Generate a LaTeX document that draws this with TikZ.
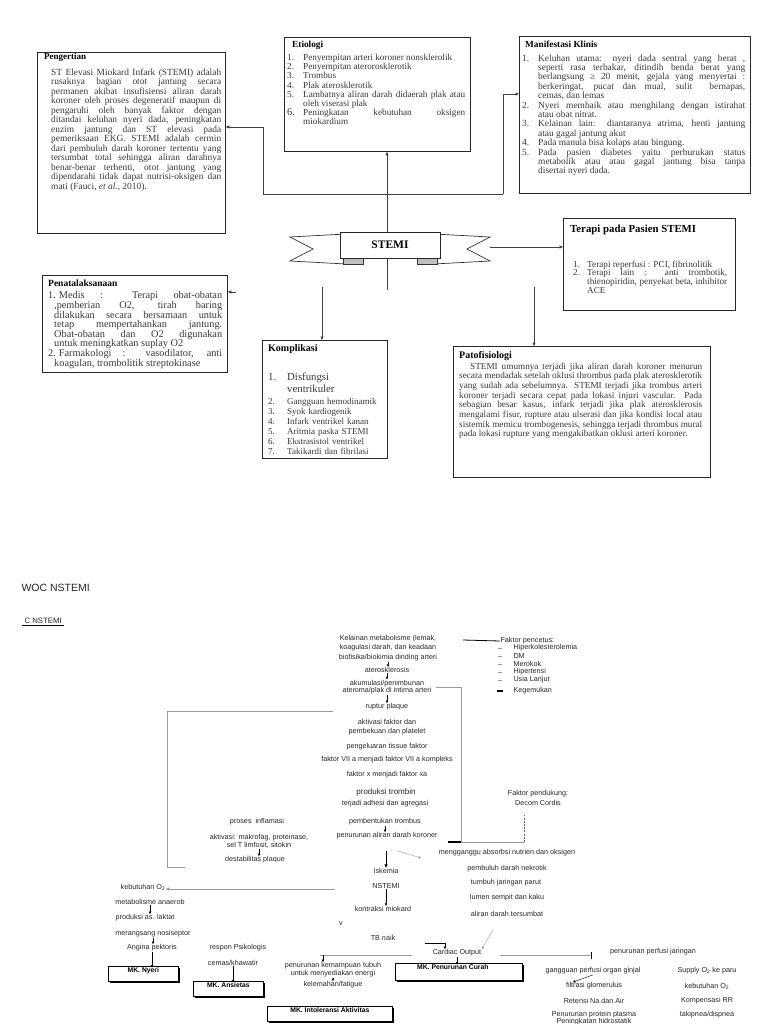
\documentclass[tikz,border=0pt]{standalone}
\usepackage{fontspec}
\setmainfont{Liberation Serif}
\setsansfont{Liberation Sans}
\usetikzlibrary{arrows.meta,shadows}
\newcommand{\myitem}[2]{\par\noindent\hangindent=#1\hangafter=1\makebox[#1][l]{#2}\ignorespaces}
\newcommand{\fsz}[2]{\fontsize{#1}{#2}\selectfont\lineskiplimit=-20pt\lineskip=0pt}
\begin{document}
\begin{tikzpicture}[x=1pt,y=-1pt,
 bx/.style={draw=black!85, line width=0.8pt, inner sep=0pt, anchor=north west},
 tt/.style={inner sep=0pt, anchor=base west, font=\bfseries\fontsize{9.3}{10}\selectfont},
 body/.style={inner sep=0pt, anchor=north west, align=justify, text=black!78},
 s/.style={inner sep=0.3pt, align=center, text=black!85, font=\sffamily\fontsize{7.2}{8}\selectfont},
 ln/.style={draw=black!40, line width=0.5pt},
 tl/.style={draw=black!75, line width=0.6pt},
 ar/.style={-{Triangle[length=3.5pt,width=3pt]}},
 tar/.style={-{Triangle[length=2.5pt,width=2.4pt]}, line width=0.4pt},
 mk/.style={draw=black, line width=0.7pt, inner sep=0pt, anchor=north west, fill=white,
   drop shadow={shadow xshift=1.4pt, shadow yshift=-1.4pt, fill=black, opacity=1}},
 mkt/.style={inner sep=0pt, font=\sffamily\bfseries\fontsize{6.8}{8}\selectfont},
]
\useasboundingbox (0,0) rectangle (768,1024);

% ---------------- top boxes ----------------
\node[bx, minimum width=188, minimum height=181] (peng) at (37,52) {};
\node[tt, font=\bfseries\fontsize{9}{10}\selectfont] (pengt) at (44,60) {Pengertian};
\node[body, text width=170pt, font=\fsz{9.4}{9.5}] (pengb) at (51,68.5) {%
ST Elevasi Miokard Infark (STEMI) adalah\linebreak
rusaknya bagian otot jantung secara\linebreak
permanen akibat insufisiensi aliran darah\linebreak
koroner oleh proses degeneratif maupun di\linebreak
pengaruhi oleh banyak faktor dengan\linebreak
ditandai keluhan nyeri dada, peningkatan\linebreak
enzim jantung dan ST elevasi pada\linebreak
pemeriksaan EKG. STEMI adalah cermin\linebreak
dari pembuluh darah koroner tertentu yang\linebreak
tersumbat total sehingga aliran darahnya\linebreak
benar-benar terhenti, otot jantung yang\linebreak
dipendarahi tidak dapat nutrisi-oksigen dan\linebreak
mati (Fauci, \textit{et al.}, 2010).};

\node[bx, minimum width=186, minimum height=114] (etio) at (284,37) {};
\node[tt] (etiot) at (292,48) {Etiologi};
\node[body, text width=178pt, font=\fsz{9.2}{9.1}] (etiob) at (287,51.5) {%
\myitem{16pt}{1.}Penyempitan arteri koroner nonsklerolik
\myitem{16pt}{2.}Penyempitan aterorosklerotik
\myitem{16pt}{3.}Trombus
\myitem{16pt}{4.}Plak aterosklerotik
\myitem{16pt}{5.}Lambatnya aliran darah didaerah plak atau\linebreak oleh viserasi plak
\myitem{16pt}{\fontsize{10.5}{9}\selectfont 6.}Peningkatan kebutuhan oksigen\linebreak miokardium\par};

\node[bx, minimum width=231, minimum height=157] (mani) at (519,36) {};
\node[tt] (manit) at (525,48) {Manifestasi Klinis};
\node[body, text width=223pt, font=\fsz{9.4}{9.4}] (manib) at (522,51.5) {%
\myitem{16pt}{1.}Keluhan utama: nyeri dada sentral yang berat ,\linebreak
seperti rasa terbakar, ditindih benda berat yang\linebreak
berlangsung ≥ 20 menit, gejala yang menyertai :\linebreak
berkeringat, pucat dan mual, sulit\ \ bernapas,\linebreak
cemas, dan lemas
\myitem{16pt}{2.}Nyeri membaik atau menghilang dengan istirahat\linebreak atau obat nitrat.
\myitem{16pt}{3.}Kelainan lain: diantaranya atrima, henti jantung\linebreak atau gagal jantung akut
\myitem{16pt}{4.}Pada manula bisa kolaps atau bingung.
\myitem{16pt}{5.}Pada pasien diabetes yaitu perburukan status\linebreak
metabolik atau atau gagal jantung bisa tanpa\linebreak disertai nyeri dada.\par};

\node[bx, minimum width=172, minimum height=92] (ter) at (563,218) {};
\node[tt, font=\bfseries\fontsize{10.8}{12}\selectfont] (tert) at (570,233) {Terapi pada Pasien STEMI};
\node[body, text width=154pt, font=\fsz{9.2}{8.8}] (terb) at (573,258) {%
\myitem{14pt}{1.}Terapi reperfusi : PCI, fibrinolitik
\myitem{14pt}{2.}Terapi lain : anti trombotik,\linebreak thienopiridin, penyekat beta, inhibitor\linebreak ACE\par};

\node[bx, minimum width=185, minimum height=97] (pen) at (42,275) {};
\node[tt, font=\bfseries\fontsize{9.5}{10}\selectfont] (pent) at (48,286) {Penatalaksanaan};
\node[body, text width=174pt, font=\fsz{10.3}{9.6}] (penb) at (48,289) {%
\myitem{6pt}{}\hspace{-6pt}1.\hspace{3pt}Medis : Terapi obat-obatan\linebreak
,pemberian O2, tirah baring\linebreak
dilakukan secara bersamaan untuk\linebreak
tetap mempertahankan jantung.\linebreak
Obat-obatan dan O2 digunakan\linebreak
untuk meningkatkan suplay O2
\myitem{6pt}{}\hspace{-6pt}2.\hspace{3pt}Farmakologi : vasodilator, anti\linebreak
koagulan, trombolitik streptokinase\par};

\node[bx, minimum width=125, minimum height=118] (komp) at (262,340) {};
\node[tt, font=\bfseries\fontsize{10}{11}\selectfont] (kompt) at (268,351.5) {Komplikasi};
\node[body, text width=117pt, font=\fsz{10.8}{12}, align=left] (komp1) at (268,368.3) {%
\myitem{19pt}{1.}Disfungsi\newline ventrikuler\par};
\node[body, text width=117pt, font=\fsz{9}{10}, align=left] (komp2) at (268,394.7) {%
\myitem{19pt}{2.}Gangguan hemodinamik
\myitem{19pt}{3.}Syok kardiogenik
\myitem{19pt}{4.}Infark ventrikel kanan
\myitem{19pt}{5.}Aritmia paska STEMI
\myitem{19pt}{6.}Ekstrasistol ventrikel
\myitem{19pt}{7.}Takikardi dan fibrilasi\par};

\node[bx, minimum width=257, minimum height=131] (pato) at (453,346) {};
\node[tt, font=\bfseries\fontsize{10}{11}\selectfont] (patot) at (459,358.5) {Patofisiologi};
\node[body, text width=243pt, font=\fsz{9.2}{9.7}] (patob) at (459,362.5) {%
\hspace*{11pt}STEMI umumnya terjadi jika aliran darah koroner menurun\linebreak
secara mendadak setelah oklusi thrombus pada plak aterosklerotik\linebreak
yang sudah ada sebelumnya. STEMI terjadi jika trombus arteri\linebreak
koroner terjadi secara cepat pada lokasi injuri vascular. Pada\linebreak
sebagian besar kasus, infark terjadi jika plak aterosklerosis\linebreak
mengalami fisur, rupture atau ulserasi dan jika kondisi local atau\linebreak
sistemik memicu trombogenesis, sehingga terjadi thrombus mural\linebreak
pada lokasi rupture yang mengakibatkan oklusi arteri koroner.\par};

% ---------------- STEMI ribbon ----------------
\draw[draw=black!80, line width=0.7pt, fill=white] (290,237) -- (346,234) -- (346,264) -- (290,261) -- (313,249) -- cycle;
\draw[draw=black!80, line width=0.7pt, fill=white] (490,237) -- (434,234) -- (434,264) -- (490,261) -- (467,249) -- cycle;
\draw[draw=black!80, line width=0.6pt, fill=black!25] (343,257) -- (363,257) -- (363,264) -- (343,264) -- cycle;
\draw[draw=black!80, line width=0.6pt, fill=black!25] (417,257) -- (437,257) -- (437,264) -- (417,264) -- cycle;
\node[draw=black!85, line width=0.8pt, fill=white, minimum width=100, minimum height=26, inner sep=0pt,
      font=\bfseries\fontsize{11.5}{13}\selectfont] (stemi) at (390,245) {STEMI};

% ---------------- top connectors ----------------
\coordinate (jA) at (263,194);
\coordinate (jB) at (503,194);
\coordinate (pengy) at (0,127);
\coordinate (maniy) at (0,94);
\coordinate (etx) at (387,0);
\coordinate (rtip) at (490,247);
\coordinate (dy) at (0,290);
\coordinate (kx) at (322,287);
\coordinate (px) at (534,287);
\coordinate (pnx) at (236,292);
\draw[tl] (jA) -- (jB);
\draw[tl, ar] (jA) |- (peng.east |- pengy);
\draw[tl, ar] (jB) |- (mani.west |- maniy);
\draw[tl, ar] (stemi.north -| etx) -- (etio.south -| etx);
\draw[tl, ar] (rtip) -- (ter.west |- rtip);
\draw[tl] (stemi.south -| etx) -- (etx |- dy);
\draw[tl, ar] (kx) -- (komp.north -| kx);
\draw[tl, ar] (px) -- (pato.north -| px);
\draw[tl, ar] (pnx) -- (pen.east |- pnx);

% ---------------- bottom: WOC NSTEMI ----------------
\node[s, anchor=west, font=\sffamily\fontsize{10.5}{12}\selectfont] (woc) at (21,588) {WOC NSTEMI};
\node[s, anchor=west, font=\sffamily\fontsize{7.8}{9}\selectfont] (cns) at (24,621) {C NSTEMI};
\draw[line width=0.8pt] ([xshift=-2pt,yshift=-1pt]cns.south west) -- ([xshift=2pt,yshift=-1pt]cns.south east);

\node[s, font=\sffamily\fontsize{7.2}{9.8}\selectfont] (kelm) at (388,648) {Kelainan metabolisme (lemak,\\koagulasi darah, dan keadaan\\biofisika/biokimia dinding arteri};
\node[s] (ater) at (387,670) {aterosklerosis};
\node[s, font=\sffamily\fontsize{7.2}{7.5}\selectfont] (akum) at (387,687) {akumulasi/penimbunan\\ateroma/plak di intima arteri};
\node[s] (rupt) at (387,707) {ruptur plaque};
\node[s, font=\sffamily\fontsize{7.2}{8.8}\selectfont] (aktf) at (387,727.5) {aktivasi faktor dan\\pembekuan dan platelet};
\node[s] (pengl) at (387,747) {pengeluaran tissue faktor};
\node[s] (f7) at (387,760) {faktor VII a menjadi faktor VII a kompleks};
\node[s] (fx) at (387,775) {faktor x menjadi faktor xa};
\node[s, font=\sffamily\fontsize{8}{9}\selectfont] (prod) at (386,792) {produksi trombin};
\node[s] (adh) at (385,804) {terjadi adhesi dan agregasi};
\node[s] (pemb) at (385,822) {pembentukan trombus};
\node[s] (pena) at (387,836) {penurunan aliran darah koroner};
\node[s] (isk) at (386,871) {Iskemia};
\node[s] (nst) at (386,886) {NSTEMI};
\node[s] (kon) at (383,909) {kontraksi miokard};
\node[s] (vv) at (341,924) {v};
\node[s] (tb) at (383,938) {TB naik};
\node[s] (co) at (457,953) {Cardiac Output};

\node[s, anchor=west] (fpc) at (500,641) {Faktor pencetus:};
\node[s, anchor=west] (fp1) at (513,648) {Hiperkolesterolemia};
\node[s, anchor=west] (fp2) at (513,656) {DM};
\node[s, anchor=west] (fp3) at (513,664) {Merokok};
\node[s, anchor=west] (fp4) at (513,672) {Hipertensi};
\node[s, anchor=west] (fp5) at (513,680) {Usia Lanjut};
\node[s, anchor=west] (fp6) at (513,691) {Kegemukan};
\coordinate (fpl) at (463,640);
\draw[line width=0.8pt] (fpl) -- (fpc.west);
\foreach \yy in {648,656,664,672,680} \draw[black!40, line width=0.5pt] (498,\yy) -- (502,\yy);
\draw[line width=1.1pt] (497,691) -- (503,691);

\node[s, font=\sffamily\fontsize{7.2}{9.5}\selectfont] (fpd) at (538,798) {Faktor pendukung:\\Decom Cordis};

\node[s] (meng) at (507,853) {mengganggu absorbsi nutrien dan oksigen};
\node[s] (pdn) at (507,869) {pembuluh darah nekrotik};
\node[s] (tjp) at (506,883) {tumbuh jaringan parut};
\node[s] (lsk) at (507,898) {lumen sempit dan kaku};
\node[s] (ads) at (507,914) {aliran darah tersumbat};

\node[s] (pinf) at (257,822) {proses\ \ inflamasi};
\node[s, font=\sffamily\fontsize{7.2}{8}\selectfont] (aktm) at (259,841) {aktivasi: makrofag, proteinase,\\sel T limfosit, sitokin};
\node[s] (dest) at (255,860) {destabilitas plaque};

\node[s] (kebo) at (143,887) {kebutuhan O\textsubscript{2}};
\node[s] (meta) at (150,902) {metabolisme anaerob};
\node[s] (prdl) at (145,918) {produksi as. laktat};
\node[s] (mer) at (153,934) {merangsang nosiseptor};
\node[s] (ang) at (152,948) {Angina pektoris};
\node[s] (resp) at (238,948) {respon Psikologis};
\node[s] (cem) at (233,963) {cemas/khawatir};

\node[s, font=\sffamily\fontsize{7.2}{8}\selectfont] (pkt) at (333,970) {penurunan kemampuan tubuh\\untuk menyediakan energi};
\node[s] (kelf) at (333,985) {kelemahan/fatigue};

\node[s] (ppj) at (653,952) {penurunan perfusi jaringan};
\node[s] (gpo) at (593,971) {gangguan perfusi organ ginjal};
\node[s] (fg) at (594,986) {filtrasi glomerulus};
\node[s] (rna) at (594,1001) {Retensi Na dan Air};
\node[s, font=\sffamily\fontsize{7.2}{7.2}\selectfont] (ppp) at (594,1018) {Penurunan protein plasma\\Peningkatan hidrostatik};
\node[s] (sup) at (707,971) {Supply O\textsubscript{2} ke paru};
\node[s] (kbo2) at (707,986) {kebutuhan O\textsubscript{2}};
\node[s] (krr) at (707,1001) {Kompensasi RR};
\node[s] (tak) at (707,1015) {takipnea/dispnea};

% MK boxes
\node[mk, minimum width=70, minimum height=15] (mkn) at (108,966) {};
\node[mkt, anchor=north] (mknt) at ([yshift=-1.5pt]mkn.north) {MK. Nyeri};
\node[mk, minimum width=70, minimum height=15] (mka) at (193,981) {};
\node[mkt, anchor=north] (mkat) at ([yshift=-1.5pt]mka.north) {MK. Ansietas};
\node[mk, minimum width=125, minimum height=15] (mki) at (267,1006) {};
\node[mkt, anchor=north] (mkit) at ([yshift=-1.5pt]mki.north) {MK. Intoleransi Aktivitas};
\node[mk, minimum width=127, minimum height=17] (mkp) at (395,963) {};
\node[mkt, anchor=north] (mkpt) at ([xshift=-6pt,yshift=-1.5pt]mkp.north) {MK. Penurunan Curah};

% ---------------- bottom connectors ----------------
\coordinate (lb1) at (333,711);
\coordinate (lb2) at (167,711);
\coordinate (lb3) at (167,867);
\coordinate (lb4) at (185,867);
\draw[ln] (lb1) -- (lb2) -- (lb3) -- (lb4);
\coordinate (rb1) at (436,687);
\coordinate (rb2) at (461,687);
\coordinate (rb3) at (461,842);
\coordinate (rb4) at (524,842);
\coordinate (rb5) at (524,815);
\draw[ln] (rb1) -- (rb2) -- (rb3) -- (rb4);
\draw[line width=1.2pt] (448,842) -- (rb3);
\draw[black!60, line width=0.9pt, dash pattern=on 2pt off 1.2pt] (rb4) -- (rb5);

\coordinate (ns1) at (335,889);
\draw[ln, ar] (ns1) -- (kebo.east |- ns1);
\coordinate (pa1) at (386,851);
\draw[line width=0.8pt, ar] (pa1) -- (isk.north -| pa1);
\coordinate (pa2) at (398,851);
\coordinate (pa3) at (421,858);
\draw[ln, tar] (pa2) -- (pa3);
\coordinate (tb1) at (425,943);
\coordinate (tb2) at (445,943);
\draw[line width=0.7pt, tar] (tb1) -- (tb2) -- (co.north -| tb2);
\coordinate (ad1) at (493,930);
\draw[ln, tar] (ad1) -- (co.north east);
\coordinate (h1) at (320,955);
\coordinate (h2) at (412,955);
\coordinate (h3) at (500,955);
\coordinate (h4) at (590,955);
\draw[ln] (h1) -- (h2);
\draw[ln] (h3) -- (h4);
\draw[line width=1pt] (591,952) -- (591,959);
\coordinate (h5) at (323,955);
\draw[line width=0.6pt, tar] (h5) -- (pkt.north -| h5);

% tiny arrows between steps
\draw[tar] (kelm.south) -- (kelm.south |- ater.north);
\draw[tar] (ater.south) -- (ater.south |- akum.north);
\draw[tar] (akum.south) -- (akum.south |- rupt.north);
\draw[tar] (pemb.south) -- (pemb.south |- pena.north);
\draw[tar] (nst.south) -- (nst.south |- kon.north);
\draw[tar] (meta.south) -- (meta.south |- prdl.north);
\draw[tar] (mer.south) -- (mer.south |- ang.north);
\draw[tar] (aktm.south) -- (aktm.south |- dest.north);
\draw[tar] (pkt.south) -- (pkt.south |- kelf.north);
\draw[tar] (gpo.south) -- ([xshift=-20pt]gpo.south |- fg.north);
\draw[tar] (ang.south) -- (ang.south |- mknt.north);
\draw[tar] (cem.south) -- (cem.south |- mkat.north);
\draw[tar] (co.south) -- (co.south |- mkpt.north);
\end{tikzpicture}
\end{document}
